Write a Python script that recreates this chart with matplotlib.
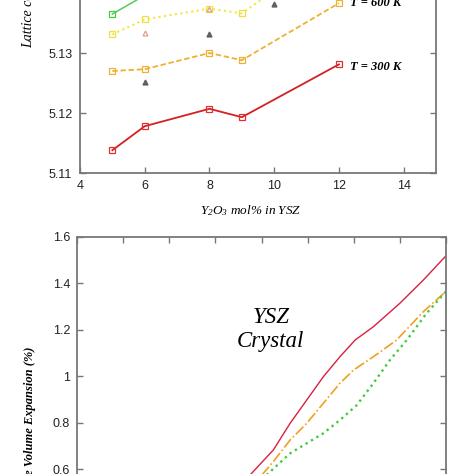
import matplotlib
matplotlib.use("Agg")
import matplotlib.pyplot as plt
from matplotlib.ticker import FormatStrFormatter, FuncFormatter

plt.rcParams["mathtext.fontset"] = "custom"
plt.rcParams["mathtext.it"] = "Liberation Serif:italic"
plt.rcParams["mathtext.rm"] = "Liberation Serif:italic"

# ---------------- data: top panel (lattice constant vs Y2O3 mol%) ----------------
x_mol = [5, 6, 8, 9, 12]
lat_300K = [5.1138, 5.1178, 5.1207, 5.1193, 5.1281]
lat_600K = [5.1270, 5.1273, 5.1300, 5.1288, 5.1383]
x_mol_y = [5, 6, 8, 9, 10, 12]
lat_900K = [5.1331, 5.1356, 5.1374, 5.1366, 5.1404, 5.1450]
x_mol_g = [5, 6, 8, 9, 12]
lat_1200K = [5.1365, 5.1396, 5.1420, 5.1415, 5.1500]
tri_x = [6, 8, 10]
tri_y = [5.1251, 5.1331, 5.1381]
tri2_x = [6, 8]
tri2_y = [5.1334, 5.1374]
top_xticks = [4, 6, 8, 10, 12, 14]
top_yticks = [5.11, 5.12, 5.13, 5.14]

# ---------------- data: bottom panel (volume expansion vs temperature) ----------------
T_red = [700, 757, 851, 924, 996, 1068, 1140, 1206, 1285, 1400, 1502, 1600]
V_red = [0.52, 0.583, 0.683, 0.798, 0.898, 0.998, 1.084, 1.156, 1.213, 1.314, 1.414, 1.518]
T_orange = [760, 808, 851, 924, 996, 1068, 1140, 1199, 1285, 1386, 1502, 1600]
V_orange = [0.52, 0.583, 0.633, 0.726, 0.798, 0.884, 0.970, 1.027, 1.084, 1.156, 1.278, 1.365]
T_green = [760, 830, 924, 996, 1068, 1140, 1213, 1285, 1357, 1430, 1516, 1600]
V_green = [0.52, 0.583, 0.669, 0.712, 0.755, 0.812, 0.876, 0.970, 1.070, 1.156, 1.271, 1.365]
bot_xticks = [0, 200, 400, 600, 800, 1000, 1200, 1400, 1600]
bot_yticks = [0.0, 0.2, 0.4, 0.6, 0.8, 1.0, 1.2, 1.4, 1.6]

W = H = 474
fig = plt.figure(figsize=(4.74, 4.74), dpi=100)

spine_c = "#777777"

def style(ax, xpad=5, ypad=5.5):
    for s in ax.spines.values():
        s.set_color(spine_c)
        s.set_linewidth(1.3)
    ax.tick_params(direction="in", length=4, width=1, color=spine_c,
                   top=True, right=True, labelsize=9, labelcolor="#222222")
    ax.tick_params(axis="x", pad=xpad)
    ax.tick_params(axis="y", pad=ypad)
    for lbl in ax.get_xticklabels() + ax.get_yticklabels():
        lbl.set_fontfamily("Liberation Sans")

def px_rect(left, top, right, bottom):
    return [left / W, 1 - bottom / H, (right - left) / W, (bottom - top) / H]

# ---------------- top panel ----------------
ax1 = fig.add_axes(px_rect(80, -67, 436, 173))
ax1.plot(x_mol, lat_300K, "-", color="#d42020", lw=1.3, marker="s",
         ms=4.5, mfc="none", mec="#e03030", mew=0.9)
ax1.plot(x_mol, lat_600K, "--", color="#f0b030", lw=1.3, marker="s",
         ms=4.5, mfc="none", mec="#f0b030", mew=0.9, dashes=(3, 1.5))
ax1.plot(x_mol_y, lat_900K, ":", color="#f2e640", lw=1.5, marker="s",
         ms=4.5, mfc="none", mec="#f0e040", mew=0.9)
ax1.plot(x_mol_g, lat_1200K, "-", color="#55cc55", lw=1.1, marker="s",
         ms=4.5, mfc="none", mec="#44cc44", mew=0.9)
ax1.plot(tri_x, tri_y, "^", color="#606060", ms=3.5, ls="none")
ax1.plot(tri2_x, tri2_y, "^", mfc="none", mec="#e0a090", ms=3.5, ls="none", mew=0.9)
ax1.set_xlim(4, 15)
ax1.set_ylim(5.11, 5.15)
ax1.set_xticks(top_xticks)
ax1.set_yticks(top_yticks)
ax1.yaxis.set_major_formatter(FormatStrFormatter("%.2f"))
style(ax1)
ax1.text(12.35, 5.1384, "T = 600 K", family="Liberation Serif", style="italic",
         weight="bold", size=9, va="center", ha="left")
ax1.text(12.35, 5.1276, "T = 300 K", family="Liberation Serif", style="italic",
         weight="bold", size=9, va="center", ha="left")
ax1.set_xlabel(r"$Y_2O_3$ mol% in YSZ", family="Liberation Serif",
               style="italic", size=9.5, labelpad=6)
ax1.xaxis.set_label_coords((251 - 80) / 356, -0.125)
fig.text(28 / W, 1 - 48 / H, "Lattice constant (Å)", family="Liberation Serif",
         style="italic", size=10, rotation=90, ha="center", va="bottom")

# ---------------- bottom panel ----------------
ax2 = fig.add_axes(px_rect(77, 236.7, 446, 609))
ax2.plot(T_red, V_red, "-", color="#d82040", lw=1.0)
ax2.plot(T_orange, V_orange, "-.", color="#f0a020", lw=1.2)
ax2.plot(T_green, V_green, ":", color="#40cc40", lw=1.7)
ax2.set_xlim(0, 1600)
ax2.set_ylim(0, 1.6)
ax2.set_xticks(bot_xticks)
ax2.set_yticks(bot_yticks)
ax2.yaxis.set_major_formatter(FuncFormatter(lambda v, p: f"{v:g}"))
style(ax2, ypad=5)
ax2.text(840, 1.252, "YSZ", family="Liberation Serif", style="italic",
         size=16.5, ha="center", va="center")
ax2.text(840, 1.148, "Crystal", family="Liberation Serif", style="italic",
         size=16.5, ha="center", va="center")
fig.text(30 / W, 1 - 347 / H, "Relative Volume Expansion (%)", family="Liberation Serif",
         style="italic", weight="bold", size=9, rotation=90, ha="center", va="top")

fig.savefig("out.png", dpi=100)
